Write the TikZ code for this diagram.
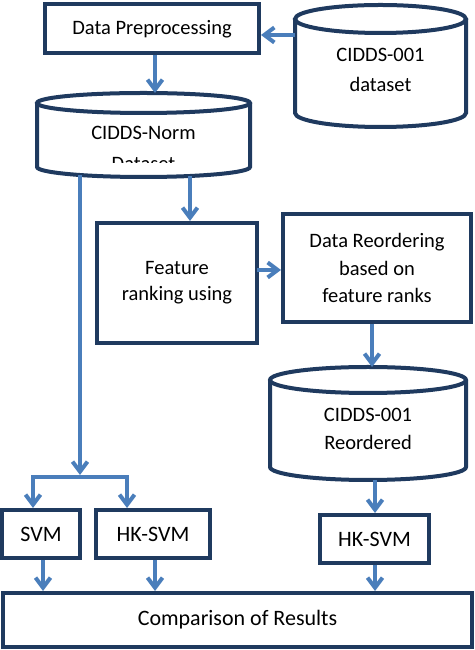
\documentclass[tikz,border=0pt]{standalone}
\usepackage{fontspec}
\setmainfont{Carlito}
\usetikzlibrary{arrows.meta}
\definecolor{navy}{HTML}{1F3A5F}
\definecolor{arrc}{HTML}{4A7EBB}
\begin{document}
\begin{tikzpicture}[x=1pt,y=1pt,
 box/.style={draw=navy, line width=4pt, fill=white, inner sep=0pt, align=center, font=\fontsize{20.5}{26}\selectfont},
 bigbox/.style={box, font=\fontsize{22}{26}\selectfont},
 txt/.style={inner sep=0pt, anchor=base, font=\fontsize{20.5}{26}\selectfont},
 cyl/.style={draw=navy, line width=4pt, fill=white},
 flow/.style={draw=arrc, line width=4pt, -{Straight Barb[length=10pt,width=15pt]}},
 conn/.style={draw=arrc, line width=4pt}]
\useasboundingbox (0,0) rectangle (474,650);

% Data Preprocessing
\node[box, minimum width=214pt, minimum height=49pt] (dp) at (152,621) {Data Preprocessing};

% CIDDS-001 dataset cylinder
\filldraw[cyl] (295,631) -- (295,537) arc[start angle=180,end angle=360,x radius=85.5,y radius=14] -- (466,631);
\filldraw[cyl] (380.5,631) ellipse[x radius=85.5, y radius=14];
\node[txt] (ds1) at (380.5,588) {CIDDS-001};
\node[txt] (ds2) at (380.5,558) {dataset};
\coordinate (dsL) at (295,615);

% CIDDS-Norm cylinder
\filldraw[cyl] (37,547) -- (37,483) arc[start angle=180,end angle=360,x radius=106.5,y radius=10] -- (250,547);
\filldraw[cyl] (143.5,547) ellipse[x radius=106.5, y radius=10];
\node[txt] (nm1) at (143.5,510) {CIDDS-Norm};
\begin{scope}
\clip (0,487) rectangle (474,650);
\node[txt] (nm2) at (143.5,479) {Dataset};
\end{scope}
\coordinate (nmT) at (155,557);
\coordinate (nmB1) at (80,475);
\coordinate (nmB2) at (190,474);

% Feature ranking
\node[box, minimum width=160pt, minimum height=120pt] (feat) at (177,367) {Feature\\ranking using};
% Data reordering
\node[box, minimum width=188pt, minimum height=108pt, font=\fontsize{20.5}{27.5}\selectfont] (reo) at (377,382) {Data Reordering\\based on\\feature ranks};

% Reordered cylinder
\filldraw[cyl] (270,270) -- (270,183) arc[start angle=180,end angle=360,x radius=98,y radius=13] -- (466,270);
\filldraw[cyl] (368,270) ellipse[x radius=98, y radius=13];
\node[txt] (rc1) at (368,228) {CIDDS-001};
\node[txt] (rc2) at (368,200) {Reordered};
\coordinate (rcT) at (372,283);
\coordinate (rcB) at (375,170);

% classifiers
\node[bigbox, minimum width=78pt, minimum height=48pt] (svm) at (41,116) {SVM};
\node[bigbox, minimum width=114pt, minimum height=48pt] (hk1) at (153,116) {HK-SVM};
\node[bigbox, minimum width=109pt, minimum height=48pt] (hk2) at (374.5,111) {HK-SVM};
\node[bigbox, minimum width=469pt, minimum height=54pt] (cmp) at (237.5,30) {Comparison of Results};

% connectors
\draw[flow] (dsL) -- (dsL -| dp.east);
\draw[flow] (nmT |- dp.south) -- (nmT);
\coordinate (brM) at (80,175);
\coordinate (brL) at (33,173);
\coordinate (brR) at (127,173);
\draw[flow] (nmB1) -- (brM);
\draw[conn, {Straight Barb[length=10pt,width=15pt]}-{Straight Barb[length=10pt,width=15pt]}] (brL |- svm.north) -- (brL) -- (brR) -- (brR |- hk1.north);
\draw[flow] (nmB2) -- (nmB2 |- feat.north);
\coordinate (fr) at (257,380);
\draw[flow] (fr) -- (fr -| reo.west);
\draw[flow] (rcT |- reo.south) -- (rcT);
\draw[flow] (rcB) -- (rcB |- hk2.north);
\draw[flow] (rcB |- hk2.south) -- (rcB |- cmp.north);
\coordinate (c1) at (43,0);
\coordinate (c2) at (155,0);
\draw[flow] (c1 |- svm.south) -- (c1 |- cmp.north);
\draw[flow] (c2 |- hk1.south) -- (c2 |- cmp.north);
\end{tikzpicture}
\end{document}
